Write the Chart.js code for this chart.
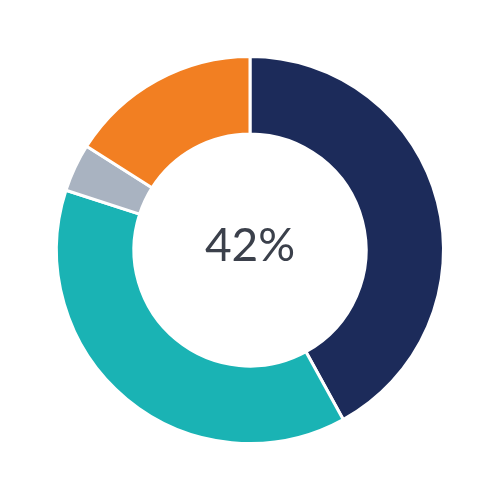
<!DOCTYPE html>
<html>
<head>
<meta charset="utf-8">
<script src="https://cdn.jsdelivr.net/npm/chart.js@4"></script>
<style>
  html, body { margin: 0; padding: 0; background: #fff; }
  #wrap { position: relative; width: 500px; height: 500px; }
  #center {
    position: absolute; left: 0; top: -7px; width: 500px; height: 500px;
    display: flex; align-items: center; justify-content: center;
    font-family: Lato, "Open Sans", sans-serif; font-weight: 400;
    font-size: 46px; color: #3b404b; pointer-events: none;
  }
</style>
</head>
<body>
<div id="wrap">
  <canvas id="donut" width="500" height="500"></canvas>
  <div id="center">42%</div>
</div>
<script>
// Dữ liệu biểu đồ
const labels = ['Navy', 'Teal', 'Gray', 'Orange'];
const values = [42, 38, 4, 16];
const colors = ['#1c2b5a', '#1ab3b4', '#a9b3c1', '#f27f22'];

document.addEventListener("DOMContentLoaded", function () {
    const ctx = document.getElementById('donut').getContext('2d');
    new Chart(ctx, {
        type: 'doughnut',
        data: {
            labels: labels,
            datasets: [{
                data: values,
                backgroundColor: colors,
                borderColor: '#ffffff',
                borderWidth: 3
            }]
        },
        options: {
            responsive: false,
            animation: false,
            cutout: '60%',
            layout: { padding: 55 },
            plugins: {
                legend: { display: false },
                tooltip: { enabled: false }
            }
        }
    });
});
</script>
</body>
</html>
